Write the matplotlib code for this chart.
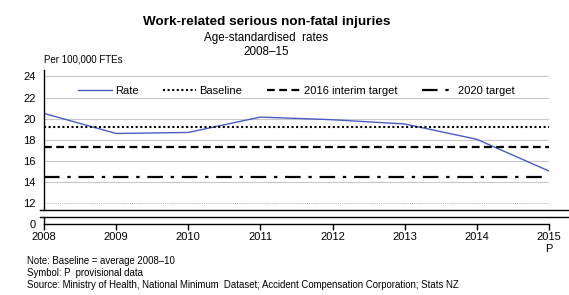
import matplotlib.pyplot as plt
from matplotlib.lines import Line2D

plt.rcParams['font.family'] = ['Liberation Sans', 'DejaVu Sans']

years = [2008, 2009, 2010, 2011, 2012, 2013, 2014, 2015]
year_labels = ["2008", "2009", "2010", "2011", "2012", "2013", "2014", "2015\nP"]
rate = [20.5, 18.6, 18.7, 20.15, 19.9, 19.5, 18.05, 15.05]
baseline = 19.25
interim_2016 = 17.35
target_2020 = 14.45
y_ticks = [12, 14, 16, 18, 20, 22, 24]

fig = plt.figure(figsize=(5.69, 2.95), dpi=100)
W, H = 569, 295
left, right = 44 / W, 549 / W

# top part of broken axis
ax = fig.add_axes([left, 1 - 210 / H, right - left, 140 / H])
# bottom part, only zero
ax0 = fig.add_axes([left, 1 - 224 / H, right - left, 7 / H])

for y in y_ticks:
    if y == 12:
        ax.axhline(y, color="#bbbbbb", lw=0.7, ls=(0, (1, 1)), zorder=0)
    else:
        ax.axhline(y, color="#c8c8c8", lw=0.8, zorder=0)

ax.plot(years, rate, color="#4a5cc4", lw=1.0, label="Rate")
ax.axhline(baseline, color="black", lw=1.5, ls=(0, (1, 1.2)), label="Baseline")
ax.axhline(interim_2016, color="black", lw=1.6, ls=(0, (3.5, 2)), label="2016 interim target")
ax.plot([years[0], years[-1] - 0.03], [target_2020] * 2, color="black", lw=1.6,
        ls=(0, (7, 3.5, 1.5, 3.5)), label="2020 target")

ax.set_xlim(years[0], years[-1])
ax.set_ylim(11.37, 24.6)
ax.set_yticks(y_ticks)
ax.set_xticks([])
ax.tick_params(axis="y", length=0, labelsize=8, pad=6)
for s in ["top", "right", "bottom"]:
    ax.spines[s].set_visible(False)
ax.spines["left"].set_linewidth(1.0)

ax.legend(loc="upper center", bbox_to_anchor=(0.5, 0.96), ncol=4, frameon=False,
          fontsize=8, handlelength=3.0, columnspacing=2.2, handletextpad=0.3)

ax0.set_xlim(years[0], years[-1])
ax0.set_ylim(0, 1)
ax0.set_yticks([0])
ax0.set_xticks(years)
ax0.set_xticklabels(year_labels, fontsize=8, linespacing=1.15)
ax0.tick_params(axis="y", length=0, labelsize=8, pad=6)
ax0.tick_params(axis="x", length=4, width=1, pad=2)
for s in ["top", "right"]:
    ax0.spines[s].set_visible(False)
ax0.spines["left"].set_linewidth(1.0)
ax0.spines["bottom"].set_linewidth(1.0)

# break lines
for yp in [210, 217]:
    fig.add_artist(Line2D([40 / W, 1.0], [1 - yp / H] * 2, color="black", lw=1.0))

fig.text(0.468, 1 - 22 / H, "Work-related serious non-fatal injuries", ha="center", va="center",
         fontsize=9.7, fontweight="bold")
fig.text(0.468, 1 - 38 / H, "Age-standardised  rates", ha="center", va="center", fontsize=8.4)
fig.text(0.468, 1 - 52 / H, "2008\u201315", ha="center", va="center", fontsize=8.4)
fig.text(44 / W, 1 - 60 / H, "Per 100,000 FTEs", ha="left", va="center", fontsize=7)

notes = ["Note: Baseline = average 2008\u201310",
         "Symbol: P  provisional data",
         "Source: Ministry of Health, National Minimum  Dataset; Accident Compensation Corporation; Stats NZ"]
for i, t in enumerate(notes):
    fig.text(27 / W, 1 - (261 + 12 * i) / H, t, ha="left", va="center", fontsize=6.95)

fig.savefig("out.png", dpi=100)
